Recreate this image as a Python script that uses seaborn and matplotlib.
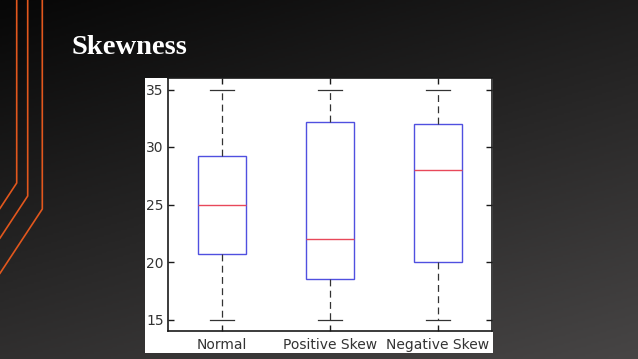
import numpy as np
import pandas as pd
import matplotlib
matplotlib.use("Agg")
import matplotlib.pyplot as plt
from matplotlib.colors import LinearSegmentedColormap
import seaborn as sns

# five-number summaries (min, q1, median, q3, max)
categories = ["Normal", "Positive Skew", "Negative Skew"]
normal = [15, 20.7, 25, 29.2, 35]
positive_skew = [15, 18.5, 22, 32.2, 35]
negative_skew = [15, 20, 28, 32, 35]
y_ticks = [15, 20, 25, 30, 35]

df = pd.DataFrame({
    "dist": np.repeat(categories, 5),
    "value": normal + positive_skew + negative_skew,
})

W, H = 638, 359
fig = plt.figure(figsize=(W / 100, H / 100), dpi=100)

# slide background: dark diagonal gradient
bg = fig.add_axes([0, 0, 1, 1])
yy, xx = np.mgrid[0:1:200j, 0:1:300j]
grad = 0.35 * xx + 0.65 * yy
cmap = LinearSegmentedColormap.from_list("slide", ["#070707", "#474545"])
bg.imshow(grad, extent=(0, W, H, 0), cmap=cmap, vmin=0, vmax=1, aspect="auto")
# orange decoration lines
for x0, y0 in [(16.7, 183), (27.7, 196), (42.3, 209)]:
    bg.plot([x0, x0, 0], [0, y0, y0 + 1.52 * x0], color="#e2571d", lw=1.2)
# white picture area
bg.add_patch(plt.Rectangle((145, 78), 348, 275, facecolor="white", edgecolor="none"))
bg.set_xlim(0, W)
bg.set_ylim(H, 0)
bg.axis("off")

fig.text(71.5 / W, 1 - 53.5 / H, "Skewness", color="white", fontsize=20.5,
         fontweight="bold", family="Liberation Serif", va="baseline")

ax = fig.add_axes([168 / W, 1 - 331 / H, 324 / W, 253 / H])
ax.set_facecolor("white")
sns.boxplot(data=df, x="dist", y="value", ax=ax, width=0.45, whis=(0, 100),
            color="white", linewidth=1,
            boxprops=dict(facecolor="white", edgecolor="#5050e0", linewidth=1),
            medianprops=dict(color="#e8485a", linewidth=1),
            whiskerprops=dict(color="#333333", linestyle=(0, (5.5, 3.5)), linewidth=0.9),
            capprops=dict(color="#333333", linewidth=0.9))

ax.set_ylim(14, 36)
ax.set_xlim(-0.5, 2.5)
ax.set_yticks(y_ticks)
ax.set_xlabel("")
ax.set_ylabel("")
for s in ax.spines.values():
    s.set_visible(True)
    s.set_color("#1a1a1a")
    s.set_linewidth(1.2)
ax.tick_params(direction="in", length=4, width=1, top=True, right=True,
               labelsize=10, labelcolor="#333333", color="#1a1a1a")
ax.tick_params(axis="x", pad=5)
ax.tick_params(axis="y", pad=3)
ax.grid(False)

fig.savefig("out.png", dpi=100)
